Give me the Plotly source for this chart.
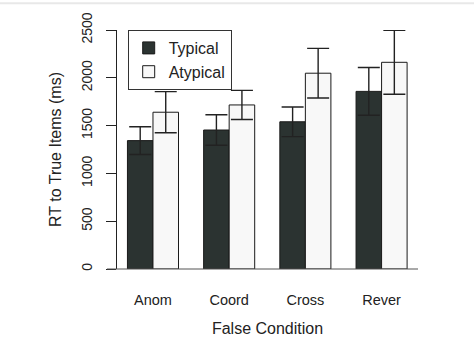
import plotly.graph_objects as go

categories = ["Anom", "Coord", "Cross", "Rever"]
typical = [1343, 1454, 1540, 1858]
typical_err = [145, 160, 155, 250]
atypical = [1640, 1716, 2048, 2162]
atypical_err = [215, 152, 260, 334]
y_ticks = [0, 500, 1000, 1500, 2000, 2500]

W, H = 474, 354
ml, mr, mt, mb = 117, 56, 28, 85
ph = H - mt - mb
pw = W - ml - mr

fig = go.Figure()
fig.add_trace(go.Bar(
    x=categories, y=typical, name="Typical",
    marker=dict(color="#2b3331", line=dict(color="#1a1a1a", width=1)),
    error_y=dict(type="data", array=typical_err, color="#222222", thickness=1.4, width=11),
))
fig.add_trace(go.Bar(
    x=categories, y=atypical, name="Atypical",
    marker=dict(color="#f8f8f8", line=dict(color="#1a1a1a", width=1)),
    error_y=dict(type="data", array=atypical_err, color="#222222", thickness=1.4, width=11),
))

font = "Liberation Sans, Arial, Helvetica, sans-serif"
fig.update_layout(
    width=W, height=H,
    margin=dict(l=ml, r=mr, t=mt, b=mb),
    paper_bgcolor="white", plot_bgcolor="white",
    barmode="group", bargap=0.33, bargroupgap=0,
    font=dict(family=font, color="#222222"),
    showlegend=True,
    legend=dict(
        x=(127.7 - ml) / pw, y=1.0, xanchor="left", yanchor="top",
        bordercolor="#333333", borderwidth=1, bgcolor="white",
        font=dict(size=16, color="#222222"),
        traceorder="normal",
    ),
    xaxis=dict(
        range=[-0.472, 3.478], showline=False, showgrid=False, zeroline=False,
        ticks="outside", ticklen=18, tickcolor="rgba(0,0,0,0)",
        tickfont=dict(size=14.5, color="#222222"),
        title=dict(text="False Condition", font=dict(size=16, color="#222222"), standoff=15),
    ),
    yaxis=dict(
        range=[0, 2500], showline=True, linecolor="#222222", linewidth=1,
        showgrid=False, zeroline=False,
        ticks="outside", ticklen=10, tickcolor="#222222", tickwidth=1,
        tickvals=y_ticks, ticktext=[str(v) for v in y_ticks], tickangle=-90,
        ticklabelstandoff=8,
        tickfont=dict(size=14, color="#222222"),
        title=dict(text="RT to True Items (ms)", font=dict(size=16, color="#222222"), standoff=13),
    ),
    shapes=[
        dict(type="line", xref="paper", yref="paper",
             x0=-10 / pw, x1=1.0, y0=0, y1=0,
             line=dict(color="#555555", width=1.2)),
        dict(type="rect", xref="paper", yref="paper",
             x0=-ml / pw, x1=1 + mr / pw, y0=1 + (mt - 2) / ph, y1=1 + mt / ph,
             fillcolor="#e8e8e8", line=dict(width=0), layer="below"),
    ],
)

fig.write_html("out.html")
